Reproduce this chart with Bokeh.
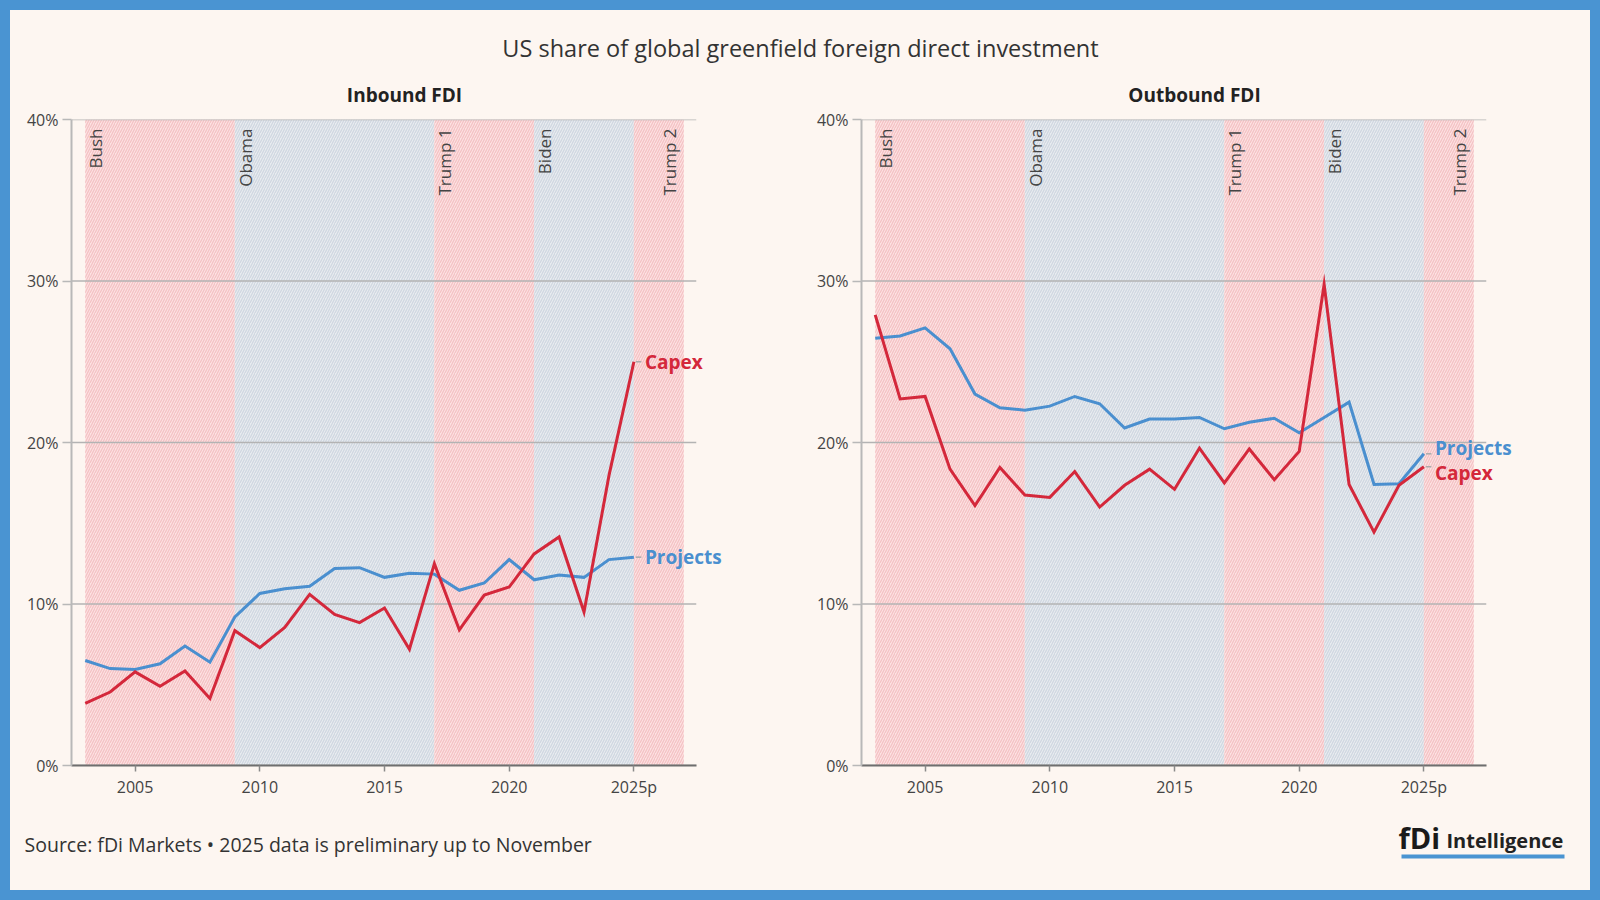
import math
from bokeh.plotting import figure
from bokeh.layouts import column, row
from bokeh.models import (ColumnDataSource, FixedTicker, PrintfTickFormatter,
                          Label, BoxAnnotation, Range1d)
from bokeh.embed import file_html
from bokeh.resources import INLINE
from bokeh.core.properties import value

# ---------------- data ----------------
years = list(range(2003, 2026))
inbound_projects = [6.5, 6.0, 5.95, 6.3, 7.4, 6.4, 9.2, 10.65, 10.95, 11.1, 12.2, 12.25,
                    11.65, 11.9, 11.85, 10.85, 11.3, 12.75, 11.5, 11.8, 11.65, 12.75, 12.9]
inbound_capex = [3.85, 4.55, 5.8, 4.9, 5.85, 4.15, 8.35, 7.3, 8.55, 10.6, 9.35, 8.85,
                 9.75, 7.2, 12.5, 8.4, 10.55, 11.05, 13.1, 14.15, 9.5, 17.95, 25.0]
outbound_projects = [26.45, 26.6, 27.1, 25.8, 23.0, 22.15, 22.0, 22.25, 22.85, 22.4, 20.9, 21.45,
                     21.45, 21.55, 20.85, 21.25, 21.5, 20.6, 21.55, 22.5, 17.4, 17.45, 19.3]
outbound_capex = [27.9, 22.7, 22.85, 18.35, 16.1, 18.45, 16.75, 16.6, 18.2, 16.0, 17.35, 18.35,
                  17.1, 19.65, 17.5, 19.6, 17.7, 19.45, 29.8, 17.4, 14.45, 17.35, 18.5]

era_names = ["Bush", "Obama", "Trump 1", "Biden", "Trump 2"]
era_start = [2003, 2009, 2017, 2021, 2025]
era_end = [2009, 2017, 2021, 2025, 2027]
era_party = ["R", "D", "R", "D", "R"]

x_ticks = [2005, 2010, 2015, 2020, 2025]
x_tick_labels = {2025: "2025p"}
y_ticks = [0, 10, 20, 30, 40]

# ---------------- style ----------------
BG = "#fdf6f1"
FRAME = "#4a94d2"
RED = "#d4283b"
BLUE = "#4a8fcf"
FONT = "Open Sans"
PARTY_FILL = {"R": "#fde3e2", "D": "#e9ecf0"}
PARTY_HATCH = {"R": "#f4c2c5", "D": "#d0d7e1"}

X_START = 2002.45      # left end of the axes
AXIS_END = 2027.5      # right end of the drawn x axis / gridlines
PX_PER_YEAR = 24.94
Y_MAX = 40


def bar(w, h):
    b = figure(width=w, height=h, min_border=0, x_axis_location=None, y_axis_location=None,
               toolbar_location=None, output_backend="svg",
               background_fill_color=FRAME, border_fill_color=FRAME, outline_line_color=None)
    b.grid.visible = False
    return b


def panel(projects, capex, width, left, proj_dy, capex_dy):
    frame_w = width - left
    x_end = X_START + frame_w / PX_PER_YEAR
    p = figure(width=width, height=692, x_range=Range1d(X_START, x_end), y_range=Range1d(0, Y_MAX),
               output_backend="svg", toolbar_location=None,
               min_border_left=left, min_border_right=0, min_border_top=11, min_border_bottom=34,
               background_fill_color=BG, border_fill_color=BG, outline_line_color=None)

    # era label anchor: band start, except the last (open-ended) band which is labelled mid-band
    label_x = list(era_start)
    label_x[-1] = (era_start[-1] + era_end[-1]) / 2
    src = ColumnDataSource(dict(left=era_start, right=era_end, name=era_names, lx=label_x,
                                fill=[PARTY_FILL[k] for k in era_party],
                                hatch=[PARTY_HATCH[k] for k in era_party]))
    p.quad(left="left", right="right", bottom=0, top=Y_MAX, source=src, fill_color="fill",
           hatch_color="hatch", hatch_pattern="/", hatch_scale=5, hatch_weight=1.3,
           line_color=None, level="image")
    p.text(x="lx", y=Y_MAX, text="name", source=src, angle=math.pi / 2,
           text_align="right", text_baseline="top", x_offset=-1, y_offset=9,
           text_font=value(FONT), text_font_size="17px", text_color="#444444")

    # horizontal gridlines, limited to the axis extent
    p.segment(x0=[X_START] * len(y_ticks), x1=[AXIS_END] * len(y_ticks), y0=y_ticks, y1=y_ticks,
              line_color="#b3b3b3", line_width=1.5, level="underlay")

    p.line(years, projects, line_color=BLUE, line_width=3, line_join="miter")
    p.line(years, capex, line_color=RED, line_width=3, line_join="miter")

    xe = years[-1]
    p.segment(x0=[xe + 0.08, xe + 0.08], x1=[xe + 0.3, xe + 0.3],
              y0=[projects[-1], capex[-1]], y1=[projects[-1], capex[-1]],
              line_color="#aaaaaa", line_width=1.5)
    p.add_layout(Label(x=xe, y=projects[-1], text="Projects", x_offset=11, y_offset=proj_dy,
                       text_baseline="middle", text_font=FONT, text_font_size="19px",
                       text_font_style="bold", text_color=BLUE))
    p.add_layout(Label(x=xe, y=capex[-1], text="Capex", x_offset=11, y_offset=capex_dy,
                       text_baseline="middle", text_font=FONT, text_font_size="19px",
                       text_font_style="bold", text_color=RED))

    p.grid.visible = False

    p.yaxis.ticker = FixedTicker(ticks=y_ticks)
    p.yaxis.formatter = PrintfTickFormatter(format="%d%%")
    p.yaxis.axis_line_color = "#b8b8b8"
    p.yaxis.axis_line_width = 2
    p.yaxis.major_tick_line_color = "#b8b8b8"
    p.yaxis.major_tick_line_width = 1.5
    p.yaxis.major_tick_out = 9
    p.yaxis.major_tick_in = 0
    p.yaxis.minor_tick_line_color = None
    p.yaxis.major_label_standoff = 4

    p.xaxis.ticker = FixedTicker(ticks=x_ticks)
    p.xaxis.bounds = (X_START, AXIS_END)
    p.xaxis.major_label_overrides = x_tick_labels
    p.xaxis.axis_line_color = "#6e6e6e"
    p.xaxis.axis_line_width = 2
    p.xaxis.major_tick_line_color = "#8a8a8a"
    p.xaxis.major_tick_line_width = 1.5
    p.xaxis.major_tick_out = 6
    p.xaxis.major_tick_in = 0
    p.xaxis.minor_tick_line_color = None
    p.xaxis.major_label_standoff = 4

    for ax in (p.xaxis, p.yaxis):
        ax.major_label_text_font = FONT
        ax.major_label_text_font_size = "16px"
        ax.major_label_text_color = "#444444"
    return p


p1 = panel(inbound_projects, inbound_capex, 770, 61, 0, 0)
p2 = panel(outbound_projects, outbound_capex, 810, 81, 6, -6)

header = figure(width=1580, height=98, x_range=Range1d(0, 1580), y_range=Range1d(0, 98),
                min_border=0, x_axis_location=None, y_axis_location=None, toolbar_location=None,
                output_backend="svg", background_fill_color=BG, border_fill_color=BG,
                outline_line_color=None)
header.grid.visible = False
header.add_layout(Label(x=790, y=61, text="US share of global greenfield foreign direct investment",
                        text_align="center", text_baseline="middle", text_font=FONT,
                        text_font_size="23.5px", text_color="#333333"))
for cx, name in ((394, "Inbound FDI"), (1184, "Outbound FDI")):
    header.add_layout(Label(x=cx, y=14, text=name, text_align="center", text_baseline="middle",
                            text_font=FONT, text_font_size="19px", text_font_style="bold",
                            text_color="#222222"))

footer = figure(width=1580, height=90, x_range=Range1d(0, 1580), y_range=Range1d(0, 90),
                min_border=0, x_axis_location=None, y_axis_location=None, toolbar_location=None,
                output_backend="svg", background_fill_color=BG, border_fill_color=BG,
                outline_line_color=None)
footer.grid.visible = False
footer.add_layout(Label(x=14, y=46, text="Source: fDi Markets \u2022 2025 data is preliminary up to November",
                        text_align="left", text_baseline="middle", text_font=FONT,
                        text_font_size="19.5px", text_color="#333333"))
footer.add_layout(Label(x=1388, y=53, text="fDi", text_align="left", text_baseline="middle",
                        text_font=FONT, text_font_size="29px", text_font_style="bold",
                        text_color="#1a1a1a"))
footer.add_layout(Label(x=1436, y=50, text="Intelligence", text_align="left",
                        text_baseline="middle", text_font=FONT, text_font_size="20px",
                        text_font_style="bold", text_color="#222222"))
footer.add_layout(BoxAnnotation(left=1391, right=1554, bottom=32, top=36, fill_color=FRAME,
                                fill_alpha=1, line_color=None))

inner = column(header, row(p1, p2, styles={"background-color": BG}), footer,
               styles={"background-color": BG})
layout = column(bar(1600, 10),
                row(bar(10, 880), inner, bar(10, 880), styles={"background-color": FRAME}),
                bar(1600, 10), styles={"background-color": FRAME})

open("out.html", "w").write(file_html(layout, INLINE))
